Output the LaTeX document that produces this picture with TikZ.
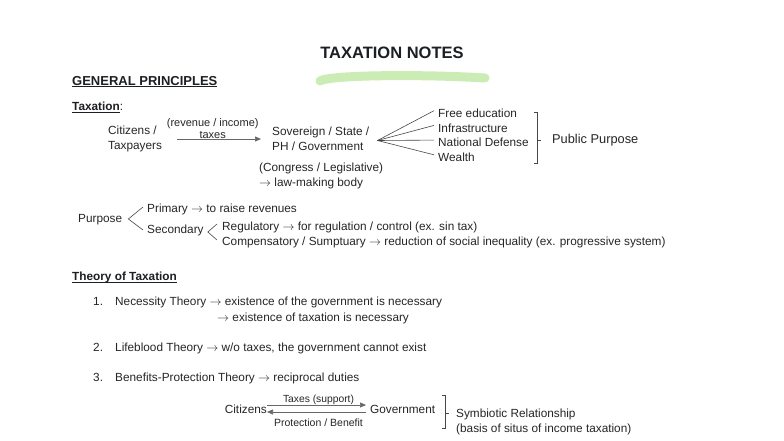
\documentclass[tikz,border=0pt]{standalone}
\usepackage{fontspec}
\setmainfont{Liberation Sans}
\usetikzlibrary{arrows.meta}

\definecolor{ink}{HTML}{262626}
\definecolor{headink}{HTML}{1C1F23}
\definecolor{marker}{HTML}{C6EBAC}

\newcommand{\bodyfont}{\fontsize{11.8}{15}\selectfont}
\newcommand{\lblfont}{\fontsize{11}{12}\selectfont}
\newcommand{\undl}[1]{\setbox0=\hbox{#1}\rlap{\rule[-1.8pt]{\wd0}{0.8pt}}\box0}
\newcommand{\ra}{$\rightarrow$}

\begin{document}
\begin{tikzpicture}[x=1pt, y=-1pt,
    txt/.style={anchor=west, inner sep=0pt, text=ink, font=\bodyfont, text height=8.5pt, text depth=0pt},
    multi/.style={anchor=west, inner sep=0pt, text=ink, font=\bodyfont, align=left},
    lbl/.style={inner sep=0pt, text=ink, font=\lblfont, align=center},
    heading/.style={anchor=west, inner sep=0pt, text=headink, text height=9pt, text depth=0pt},
    conn/.style={draw=ink!85, line width=0.6pt},
    arr/.style={draw=ink!70, line width=0.7pt, -{Triangle[length=6pt, width=5pt]}},
  ]
    \fill[white] (0,0) rectangle (784,441);
    \useasboundingbox (0,0) rectangle (784,441);

    % Title with marker stroke
    \draw[marker, line width=9pt, line cap=round, opacity=0.9]
        (320,81) .. controls (328,75) and (420,74) .. (485,78);
    \node[anchor=center, inner sep=0pt, text=headink, font=\bfseries\fontsize{16.5}{20}\selectfont] (title) at (392,52.5) {TAXATION NOTES};

    \node[heading, font=\bfseries\fontsize{13}{15}\selectfont] (genprin) at (72,81) {\undl{GENERAL PRINCIPLES}};
    \node[heading, font=\bfseries\bodyfont] (taxation) at (72,106) {\undl{Taxation}\mdseries:};

    % Citizens -> Sovereign
    \node[multi] (citizens) at (108,139) {Citizens /\\Taxpayers};
    \node[multi] (sovereign) at (272,138.5) {Sovereign / State /\\PH / Government};
    \draw[arr, shorten <=15pt, shorten >=11pt] (citizens.east) -- (citizens.east -| sovereign.west)
        node[lbl, pos=0.46, above=0.5pt, text depth=0pt] (taxlbl) {(revenue / income)\\taxes};

    \node[txt] (congress) at (259,167) {(Congress / Legislative)};
    \node[txt] (lawbody) at (259,182) {\ra{} law-making body};

    % Public purpose fan
    \coordinate (fan) at ([xshift=8pt, yshift=-2pt]sovereign.east);
    \foreach \name/\item [count=\i] in {freeedu/Free education, infra/Infrastructure, natdef/National Defense, wealth/Wealth} {
        \node[txt] (\name) at (438, 98.5+14.7*\i) {\item};
        \draw[conn] (fan) -- ([shift={(-4pt,2.5pt)}]\name.west);
    }
    \draw[conn] (534,112.5) -- (537.5,112.5) -- (537.5,163.5) -- (534,163.5);
    \draw[conn] (537.5,140) -- (541,140);
    \node[txt, font=\fontsize{12.8}{15}\selectfont] (pubpurpose) at (552,139) {Public Purpose};

    % Purpose
    \node[txt] (purpose) at (78,218) {Purpose};
    \coordinate (pfan) at ([xshift=6pt, yshift=-1pt]purpose.east);
    \node[txt] (primary) at (147,208) {Primary \ra{} to raise revenues};
    \node[txt] (secondary) at (147,229) {Secondary};
    \draw[conn] ([shift={(-4pt,1pt)}]primary.west) -- (pfan) -- ([shift={(-4pt,-1pt)}]secondary.west);

    \coordinate (sfan) at ([shift={(4pt,-3pt)}]secondary.east);
    \node[txt] (regulatory) at (222,226) {Regulatory \ra{} for regulation / control (ex. sin tax)};
    \node[txt] (compens) at (222,241) {Compensatory / Sumptuary \ra{} reduction of social inequality (ex. progressive system)};
    \draw[conn] ([shift={(-5pt,2pt)}]regulatory.west) -- (sfan) -- ([shift={(-5pt,1pt)}]compens.west);

    % Theory of Taxation
    \node[heading, font=\bfseries\bodyfont] (theory) at (72,276) {\undl{Theory of Taxation}};

    \node[txt] (num1) at (93,301) {1.};
    \node[txt] (necessity) at (115,301) {Necessity Theory \ra{} existence of the government is necessary};
    \node[txt] (necessity2) at (217,317) {\ra{} existence of taxation is necessary};

    \node[txt] (num2) at (93,347) {2.};
    \node[txt] (lifeblood) at (115,347) {Lifeblood Theory \ra{} w/o taxes, the government cannot exist};

    \node[txt] (num3) at (93,377) {3.};
    \node[txt] (benefits) at (115,377) {Benefits-Protection Theory \ra{} reciprocal duties};

    % Citizens <-> Government
    \node[txt, anchor=east] (citizens2) at (267,409) {Citizens};
    \node[txt] (govt) at (370,409) {Government};
    \draw[arr, shorten >=4pt] ([yshift=4pt]citizens2.east) -- ([yshift=4pt]citizens2.east -| govt.west)
        node[lbl, midway, above=2.5pt, text height=7.5pt, text depth=0pt, font=\fontsize{10.3}{12}\selectfont] (supportlbl) {Taxes (support)};
    \draw[arr, shorten <=4pt] ([yshift=-3pt]citizens2.east -| govt.west) -- ([yshift=-3pt]citizens2.east)
        node[lbl, midway, below=7pt, text height=7.5pt, text depth=0pt, font=\fontsize{10.5}{12}\selectfont] (protectlbl) {Protection / Benefit};

    \draw[conn] (442,395.5) -- (445.5,395.5) -- (445.5,428.5) -- (442,428.5);
    \draw[conn] (445.5,413) -- (449,413);
    \node[txt] (symbiotic) at (456,413) {Symbiotic Relationship};
    \node[txt] (situs) at (456,428) {(basis of situs of income taxation)};
\end{tikzpicture}
\end{document}
